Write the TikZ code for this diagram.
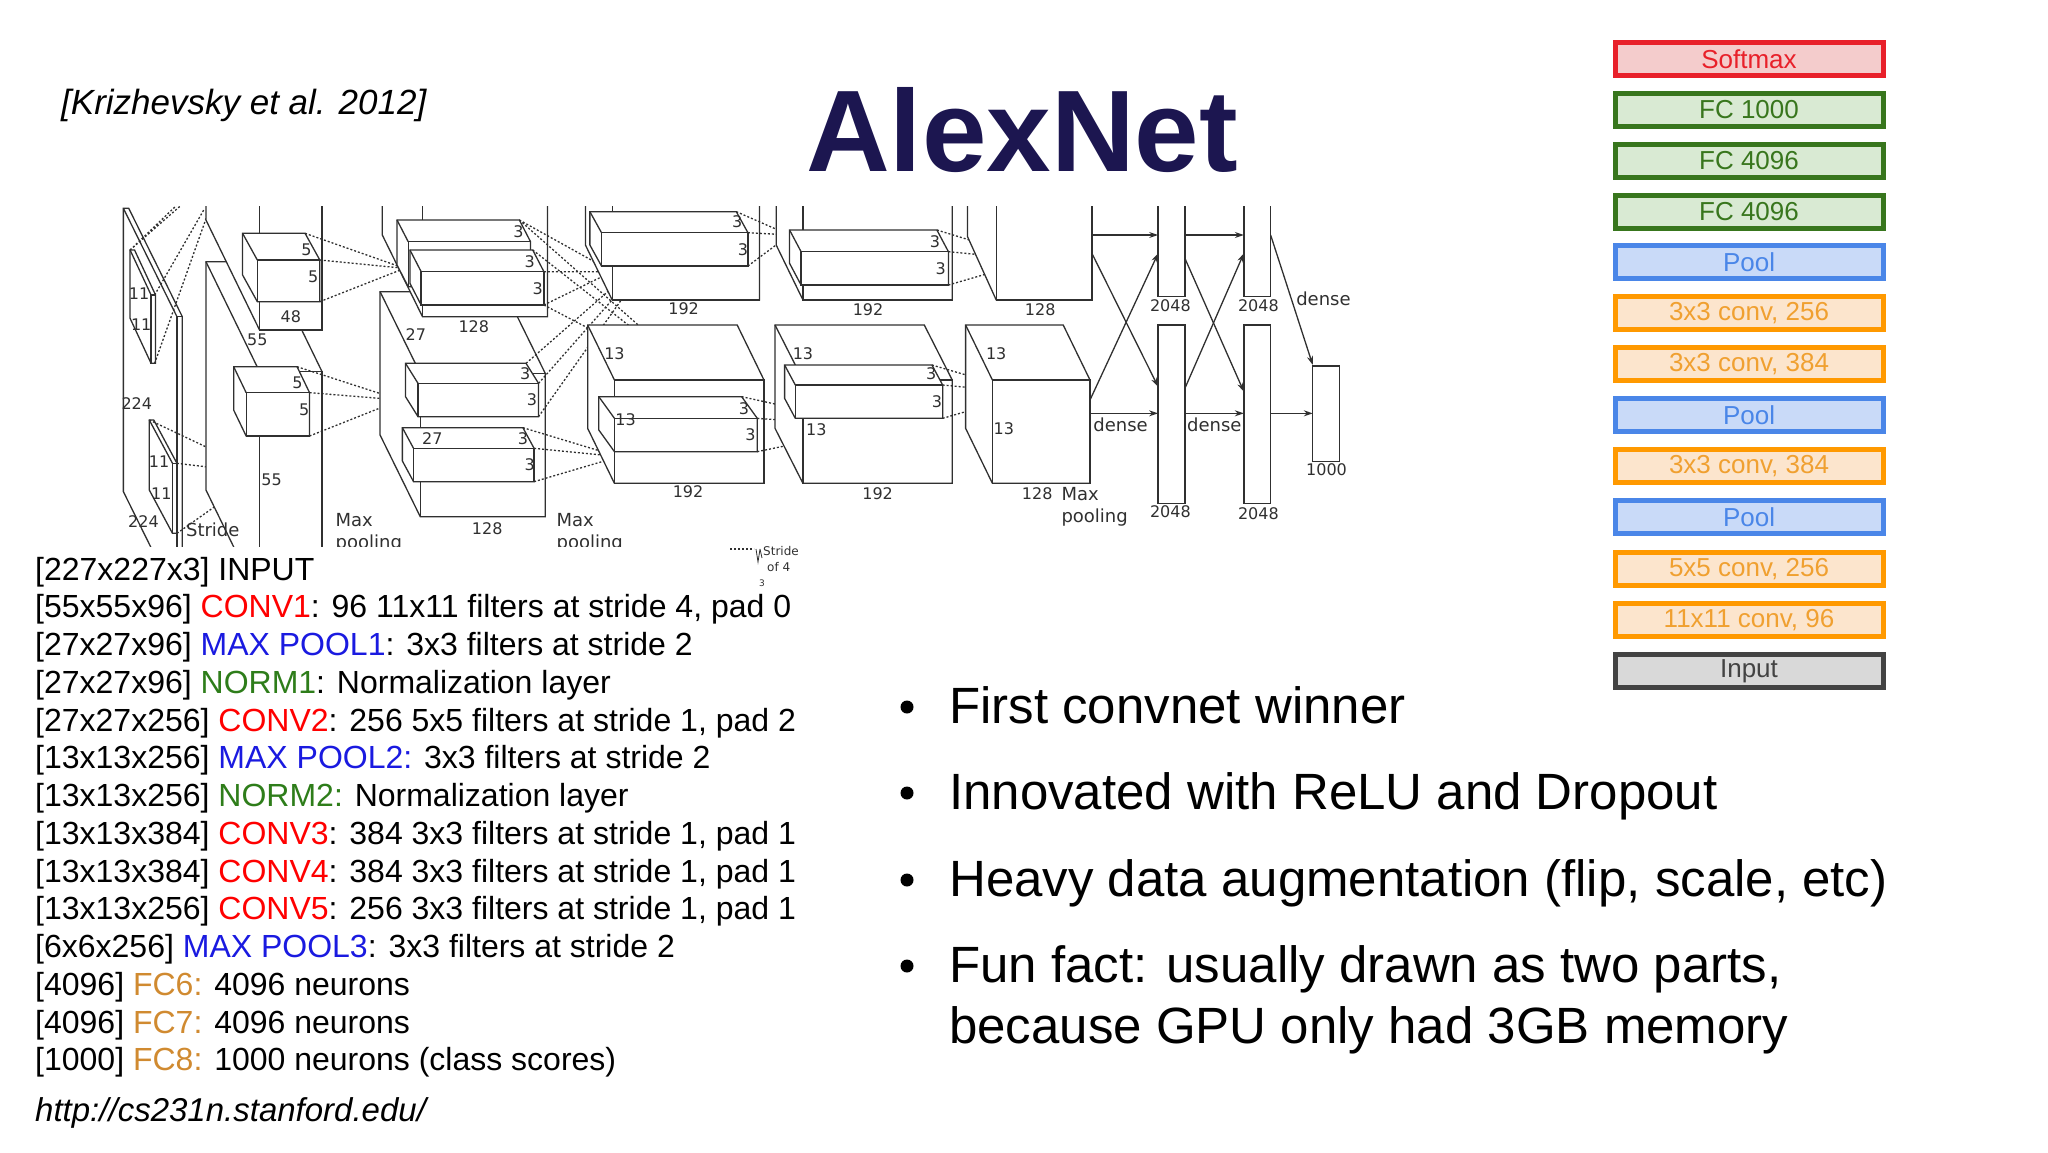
\documentclass[tikz,border=0pt]{standalone}
\usepackage{fontspec}
\setmainfont{Liberation Sans}
\newfontfamily\figfont{DejaVu Sans}
\usetikzlibrary{arrows.meta}
\definecolor{navy}{HTML}{1C1650}
\definecolor{sred}{HTML}{E8202A}\definecolor{fred}{HTML}{F4CCCC}
\definecolor{sgreen}{HTML}{38761D}\definecolor{fgreen}{HTML}{D9EAD3}
\definecolor{sblue}{HTML}{4A86E8}\definecolor{fblue}{HTML}{C9DAF8}
\definecolor{sorange}{HTML}{FF9900}\definecolor{forange}{HTML}{FCE5CD}
\definecolor{tor}{HTML}{F0A030}
\definecolor{sgray}{HTML}{434343}\definecolor{fgray}{HTML}{D9D9D9}
\definecolor{fcol}{HTML}{D08A30}
\definecolor{nblue}{HTML}{1A1AE0}
\definecolor{ngreen}{HTML}{2E7D1A}
\definecolor{figc}{HTML}{303030}
\newcommand\cubd[6]{%
 \filldraw[fig,fill=white] (#1-#5,#2-#6) -- (#3-#5,#2-#6) -- (#3,#2) -- (#3,#4) -- (#1,#4) -- (#1-#5,#4-#6) -- cycle;
 \draw[fig] (#1,#2) rectangle (#3,#4);
 \draw[fig] (#1,#2) -- (#1-#5,#2-#6);}
\newcommand\fl[3]{\node[flab] at (#1,#2) {#3};}
\tikzset{
 fig/.style={draw=figc,line width=1.3pt},
 dot/.style={draw=figc,line width=1.3pt,dash pattern=on 2pt off 2pt},
 arr/.style={draw=figc,line width=1.3pt,-{Stealth[length=9pt,width=6pt]}},
 flab/.style={font=\figfont\fontsize{16}{18}\selectfont,text=figc,inner sep=0pt},
 sbox/.style={minimum width=268pt,minimum height=33pt,line width=5pt,font=\fontsize{26}{28}\selectfont,inner sep=0pt},
 ltxt/.style={anchor=base west,inner sep=0pt,font=\fontsize{32}{34}\selectfont},
 btxt/.style={anchor=base west,inner sep=0pt,font=\fontsize{51}{55}\selectfont},
}
\begin{document}
\begin{tikzpicture}[x=1pt,y=-1pt]
\useasboundingbox (0,0) rectangle (2048,1152);
% title and citation
\node[anchor=base,inner sep=0pt,font=\bfseries\fontsize{116}{120}\selectfont,text=navy] (title) at (1022,171) {AlexNet};
\node[anchor=base west,inner sep=0pt,font=\itshape\fontsize{35}{37}\selectfont] (cite) at (61,114) {[Krizhevsky et al. 2012]};
% right stack
\foreach \y/\t/\s/\f/\c [count=\i] in {59/Softmax/sred/fred/sred,110/FC 1000/sgreen/fgreen/sgreen,161/FC 4096/sgreen/fgreen/sgreen,212/FC 4096/sgreen/fgreen/sgreen,262/Pool/sblue/fblue/sblue,313/{3x3 conv, 256}/sorange/forange/tor,364/{3x3 conv, 384}/sorange/forange/tor,415/Pool/sblue/fblue/sblue,466/{3x3 conv, 384}/sorange/forange/tor,517/Pool/sblue/fblue/sblue,569/{5x5 conv, 256}/sorange/forange/tor,620/{11x11 conv, 96}/sorange/forange/tor,671/Input/sgray/fgray/sgray}
 \node[sbox,draw=\s,fill=\f,text=\c] (s\i) at (1749,\y) {\t};
% layer list
\foreach \t [count=\i from 0] in {
 {[227x227x3] INPUT},
 {[55x55x96] \textcolor{red}{CONV1}: 96 11x11 filters at stride 4, pad 0},
 {[27x27x96] \textcolor{nblue}{MAX POOL1}: 3x3 filters at stride 2},
 {[27x27x96] \textcolor{ngreen}{NORM1}: Normalization layer},
 {[27x27x256] \textcolor{red}{CONV2}: 256 5x5 filters at stride 1, pad 2},
 {[13x13x256] \textcolor{nblue}{MAX POOL2:} 3x3 filters at stride 2},
 {[13x13x256] \textcolor{ngreen}{NORM2:} Normalization layer},
 {[13x13x384] \textcolor{red}{CONV3}: 384 3x3 filters at stride 1, pad 1},
 {[13x13x384] \textcolor{red}{CONV4}: 384 3x3 filters at stride 1, pad 1},
 {[13x13x256] \textcolor{red}{CONV5}: 256 3x3 filters at stride 1, pad 1},
 {[6x6x256] \textcolor{nblue}{MAX POOL3}: 3x3 filters at stride 2},
 {[4096] \textcolor{fcol}{FC6:} 4096 neurons},
 {[4096] \textcolor{fcol}{FC7:} 4096 neurons},
 {[1000] \textcolor{fcol}{FC8:} 1000 neurons (class scores)}}
 \node[ltxt] (l\i) at (35,580+37.75*\i) {\t};
\node[ltxt,font=\itshape\fontsize{33}{35}\selectfont] (url) at (35,1121) {http://cs231n.stanford.edu/};
% bullets
\foreach \y/\t [count=\i] in {723/First convnet winner,809/Innovated with ReLU and Dropout,896/{Heavy data augmentation (flip, scale, etc)},982/{Fun fact: usually drawn as two parts,}}
 {\node[btxt] (b\i) at (949,\y) {\t};
  \fill (907,\y-16) circle (6.5pt);}
\node[btxt] (b5) at (949,1043) {because GPU only had 3GB memory};
% figure
\begin{scope}
\clip (0,206) rectangle (2048,546);
\begin{scope}[shift={(110,200)},xscale=0.4464,yscale=0.33333]
 % input
 \cubd{150}{350}{162}{1200}{120}{325}
 \cubd{92}{285}{102}{490}{47}{135}
 \cubd{140}{790}{150}{1000}{52}{130}
 \draw[dot] (45,150)--(160,15) (100,285)--(210,30) (100,490)--(222,30) (45,150)--(150,15);
 \draw[dot] (88,660)--(340,820) (150,790)--(340,820) (150,1000)--(340,820);
 % conv1
 \cubd{335}{515}{475}{1200}{120}{330}
 \cubd{335}{-200}{475}{390}{120}{330}
 \cubd{330}{180}{470}{305}{33}{80}
 \cubd{305}{578}{447}{708}{28}{78}
 \draw[dot] (437,100)--(660,205) (470,180)--(660,205) (470,305)--(660,205);
 \draw[dot] (419,500)--(650,600) (447,578)--(650,600) (447,708)--(650,600);
 % conv2
 \cubd{695}{520}{975}{950}{90}{245}
 \cubd{700}{-200}{980}{350}{90}{245}
 \cubd{668}{125}{942}{260}{25}{65}
 \cubd{697}{215}{972}{315}{25}{65}
 \cubd{690}{550}{960}{650}{28}{60}
 \cubd{680}{745}{950}{845}{25}{62}
 \draw[dot] (917,60)--(1125,215) (972,215)--(1125,215) (972,315)--(1125,215);
 \draw[dot] (917,60)--(1365,590) (947,150)--(1365,590) (972,315)--(1365,590);
 \draw[dot] (932,490)--(1230,140) (960,550)--(1230,140) (960,650)--(1230,140);
 \draw[dot] (925,683)--(1140,770) (950,745)--(1140,770) (950,845)--(1140,770);
 % conv3
 \cubd{1130}{540}{1465}{850}{60}{165}
 \cubd{1125}{-200}{1455}{300}{60}{165}
 \cubd{1101}{98}{1429}{198}{26}{63}
 \cubd{1130}{655}{1450}{755}{35}{65}
 \draw[dot] (1403,35)--(1522,105) (1429,98)--(1522,105) (1429,198)--(1522,105);
 \draw[dot] (1415,590)--(1720,680) (1450,655)--(1720,680) (1450,755)--(1720,680);
 \fl{65}{280}{11}\fl{70}{375}{11}\fl{110}{785}{11}\fl{115}{880}{11}
 \fl{60}{610}{224}\fl{75}{965}{224}
 \node[flab,font=\figfont\fontsize{18}{20}\selectfont,anchor=west] at (170,990) {Stride};
 \fl{440}{150}{5}\fl{455}{230}{5}\fl{420}{548}{5}\fl{435}{628}{5}
 \fl{405}{350}{48}\fl{330}{420}{55}\fl{362}{840}{55}
 \fl{685}{405}{27}\fl{722}{715}{27}
 \fl{915}{95}{3}\fl{940}{185}{3}\fl{958}{265}{3}\fl{930}{520}{3}\fl{945}{600}{3}\fl{925}{715}{3}\fl{940}{795}{3}
 \fl{815}{380}{128}\fl{845}{985}{128}
 \node[flab,font=\figfont\fontsize{18}{22}\selectfont,anchor=north west,align=left] at (505,940) {Max\\pooling};
 \node[flab,font=\figfont\fontsize{18}{22}\selectfont,anchor=north west,align=left] at (1000,940) {Max\\pooling};
 \fl{1130}{460}{13}\fl{1155}{660}{13}
 \fl{1405}{65}{3}\fl{1418}{150}{3}\fl{1420}{625}{3}\fl{1435}{705}{3}
 \fl{1285}{325}{192}\fl{1295}{875}{192}
\end{scope}
\begin{scope}[shift={(780,200)},xscale=0.3827,yscale=0.33333]
 % conv4
 \cubd{60}{540}{450}{850}{73}{165}
 \cubd{60}{-200}{450}{300}{70}{165}
 \cubd{55}{155}{440}{255}{30}{65}
 \cubd{40}{555}{425}{655}{28}{60}
 \draw[dot] (410,90)--(665,180) (440,155)--(665,180) (440,255)--(665,180);
 \draw[dot] (397,495)--(650,580) (425,555)--(650,580) (425,655)--(650,580);
 % conv5
 \cubd{555}{540}{810}{850}{70}{165}
 \cubd{565}{-200}{815}{300}{75}{190}
 % FC
 \draw[fig] (988,-100) rectangle (1058,290);
 \draw[fig] (988,375) rectangle (1058,910);
 \draw[fig] (1212,-100) rectangle (1282,290);
 \draw[fig] (1212,375) rectangle (1282,910);
 \draw[fig] (1392,498) rectangle (1462,785);
 \draw[arr] (815,105)--(988,105);
 \draw[arr] (1058,105)--(1212,105);
 \draw[arr] (810,640)--(988,640);
 \draw[arr] (1058,640)--(1212,640);
 \draw[arr] (1282,640)--(1392,640);
 \draw[arr] (815,160)--(988,560);
 \draw[arr] (810,600)--(988,160);
 \draw[arr] (1058,175)--(1212,575);
 \draw[arr] (1058,565)--(1212,160);
 \draw[arr] (1282,105)--(1392,495);
 \fl{405}{125}{3}\fl{420}{205}{3}\fl{395}{520}{3}\fl{410}{605}{3}
 \fl{230}{330}{192}\fl{255}{880}{192}
 \fl{60}{460}{13}\fl{95}{690}{13}\fl{565}{460}{13}\fl{585}{685}{13}
 \fl{680}{330}{128}\fl{672}{880}{128}
 \node[flab,font=\figfont\fontsize{18}{22}\selectfont,anchor=north west,align=left] at (735,862) {Max\\pooling};
 \fl{1020}{318}{2048}\fl{1250}{318}{2048}\fl{1020}{935}{2048}\fl{1250}{940}{2048}\fl{1428}{810}{1000}
 \node[flab,font=\figfont\fontsize{18}{20}\selectfont] at (1420,297) {dense};
 \node[flab,font=\figfont\fontsize{18}{20}\selectfont] at (890,675) {dense};
 \node[flab,font=\figfont\fontsize{18}{20}\selectfont] at (1135,675) {dense};
\end{scope}
\end{scope}
% stride note
\draw[dot] (730,549)--(754,549);
\draw[fig,line width=0.8pt] (756,549)--(758,562)--(760,549) (760,549)--(762,558);
\node[flab,font=\figfont\fontsize{12}{13}\selectfont,anchor=west] (st) at (763,551) {Stride};
\node[flab,font=\figfont\fontsize{12}{13}\selectfont,anchor=west] (of) at (767,567) {of 4};
\node[flab,font=\figfont\fontsize{9}{10}\selectfont] (thr) at (762,583) {3};
\end{tikzpicture}
\end{document}
